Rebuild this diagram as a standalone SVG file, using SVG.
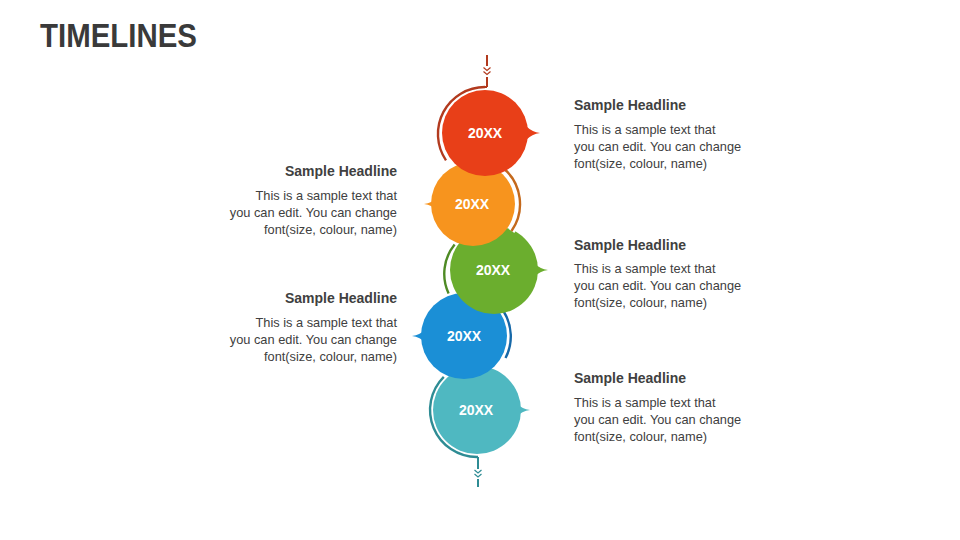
<svg xmlns="http://www.w3.org/2000/svg" width="960" height="540" viewBox="0 0 960 540">
<style>
.title{font-family:"Liberation Sans",Arial,sans-serif;font-weight:bold;font-size:33px;fill:#3a3a3a}
.yr{font-family:"Liberation Sans",Arial,sans-serif;font-weight:bold;font-size:14px;fill:#ffffff;text-anchor:middle;dominant-baseline:central}
.hd{font-family:"Liberation Sans",Arial,sans-serif;font-weight:bold;font-size:14px;fill:#404040}
.bd{font-family:"Liberation Sans",Arial,sans-serif;font-size:12.8px;fill:#404040}
.r{text-anchor:end}
.halo{fill:none;stroke:#ffffff;stroke-width:7}
.arc{fill:none;stroke-width:2.4}
.chev{fill:none;stroke-width:1.2}
</style>
<rect width="960" height="540" fill="#ffffff"/>
<text class="title" x="40" y="47" textLength="157" lengthAdjust="spacingAndGlyphs">TIMELINES</text>

<g id="connectors">
  <g stroke="#B23A1E">
    <line x1="487" y1="55" x2="487" y2="66" stroke-width="2"/>
    <polyline class="chev" points="483.5,67.5 487,70.5 490.5,67.5"/>
    <polyline class="chev" points="483.5,71.5 487,74.5 490.5,71.5"/>
    <line x1="487" y1="77" x2="487" y2="87" stroke-width="2"/>
    <line x1="487" y1="87" x2="485" y2="87" stroke-width="2"/>
  </g>
  <g stroke="#2E8C94">
    <line x1="478" y1="457" x2="478" y2="469" stroke-width="2"/>
    <polyline class="chev" points="474.5,470 478,473 481.5,470"/>
    <polyline class="chev" points="474.5,474 478,477 481.5,474"/>
    <line x1="478" y1="479" x2="478" y2="487" stroke-width="2"/>
  </g>
</g>

<g id="node5">
  <path class="halo" d="M443.8,376.8 A47,47 0 0 0 477,457"/>
  <path class="arc" stroke="#2E8C94" d="M443.8,376.8 A47,47 0 0 0 477,457 H478"/>
  <path d="M516,403 Q522,409 530,410 Q522,411 516,417 Z" fill="#4FB8C1"/>
  <circle cx="477" cy="410" r="44" fill="#4FB8C1"/>
  <text class="yr" x="476" y="410">20XX</text>
  <text class="hd" x="574" y="383">Sample Headline</text>
  <text class="bd" x="574" y="407">This is a sample text that</text>
  <text class="bd" x="574" y="424">you can edit. You can change</text>
  <text class="bd" x="574" y="441">font(size, colour, name)</text>
</g>

<g id="node4">
  <path class="halo" d="M503.7,311.5 A47,47 0 0 1 505.5,358"/>
  <path class="arc" stroke="#1668A8" d="M503.7,311.5 A47,47 0 0 1 505.5,358"/>
  <path d="M426,329 Q420,335 412,336 Q420,337 426,343 Z" fill="#1B8FD6"/>
  <circle cx="464" cy="336" r="43" fill="#1B8FD6"/>
  <text class="yr" x="464" y="336">20XX</text>
  <text class="hd r" x="397" y="303">Sample Headline</text>
  <text class="bd r" x="397" y="327">This is a sample text that</text>
  <text class="bd r" x="397" y="344">you can edit. You can change</text>
  <text class="bd r" x="397" y="361">font(size, colour, name)</text>
</g>

<g id="node3">
  <path class="halo" d="M454.6,244.4 A47,47 0 0 0 448.6,293.5"/>
  <path class="arc" stroke="#4E8A24" d="M454.6,244.4 A47,47 0 0 0 448.6,293.5"/>
  <path d="M534,263 Q540,269 548,270 Q540,271 534,277 Z" fill="#6BAE2E"/>
  <circle cx="494" cy="270" r="44" fill="#6BAE2E"/>
  <text class="yr" x="493" y="270">20XX</text>
  <text class="hd" x="574" y="250">Sample Headline</text>
  <text class="bd" x="574" y="273">This is a sample text that</text>
  <text class="bd" x="574" y="290">you can edit. You can change</text>
  <text class="bd" x="574" y="307">font(size, colour, name)</text>
</g>

<g id="node2">
  <path class="halo" d="M503.2,168 A47,47 0 0 1 511.5,231"/>
  <path class="arc" stroke="#C4691C" d="M503.2,168 A47,47 0 0 1 511.5,231"/>
  <path d="M438,197 Q432,203 424,204 Q432,205 438,211 Z" fill="#F7941E"/>
  <circle cx="473" cy="204" r="42" fill="#F7941E"/>
  <text class="yr" x="472" y="204">20XX</text>
  <text class="hd r" x="397" y="176">Sample Headline</text>
  <text class="bd r" x="397" y="200">This is a sample text that</text>
  <text class="bd r" x="397" y="217">you can edit. You can change</text>
  <text class="bd r" x="397" y="234">font(size, colour, name)</text>
</g>

<g id="node1">
  <path class="halo" d="M485,87 A47,47 0 0 0 446,160.3"/>
  <path class="arc" stroke="#B23A1E" d="M485,87 A47,47 0 0 0 446,160.3"/>
  <path d="M526,126 Q532,132 540,133 Q532,134 526,140 Z" fill="#E83F18"/>
  <circle cx="485" cy="133" r="43" fill="#E83F18"/>
  <text class="yr" x="485" y="133">20XX</text>
  <text class="hd" x="574" y="110">Sample Headline</text>
  <text class="bd" x="574" y="134">This is a sample text that</text>
  <text class="bd" x="574" y="151">you can edit. You can change</text>
  <text class="bd" x="574" y="168">font(size, colour, name)</text>
</g>
</svg>
